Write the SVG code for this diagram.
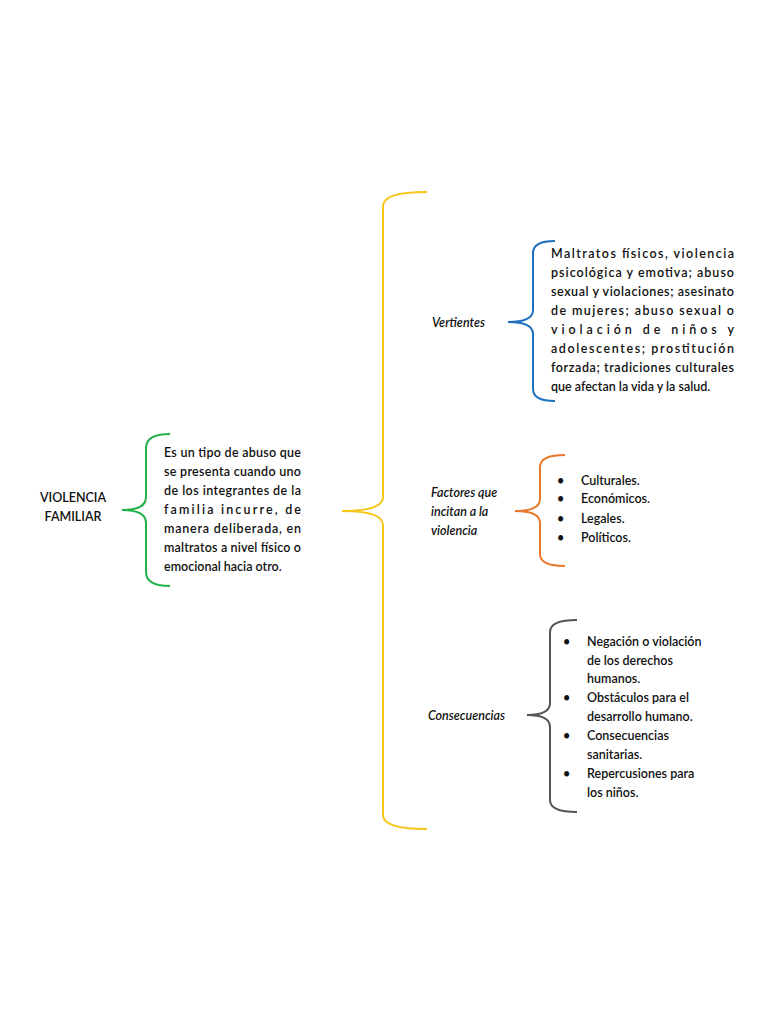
<svg xmlns="http://www.w3.org/2000/svg" width="768" height="1024" viewBox="0 0 768 1024">
<style>
text{font-family:Lato,"Open Sans",sans-serif;font-size:12.5px;font-weight:600;fill:#111}
.i{font-style:italic}
.b{fill:none;stroke-width:2}
</style>
<rect width="768" height="1024" fill="#fff"/>
<g id="connectors">
<path class="b" stroke="#22b04b" d="M170 434 Q146 434 146 448 L146 497 Q146 510 122 510 Q146 510 146 523 L146 572 Q146 586 170 586"/>
<path class="b" stroke="#f5c518" d="M427 192 Q383 192 383 206 L383 497 Q383 511 342 511 Q383 511 383 525 L383 815 Q383 829 427 829"/>
<path class="b" stroke="#1f6fc0" d="M555 241 Q533 241 533 253 L533 310 Q533 322 508 322 Q533 322 533 334 L533 389 Q533 401 555 401"/>
<path class="b" stroke="#e8782a" d="M565 455 Q540 455 540 467 L540 499 Q540 511 515 511 Q540 511 540 523 L540 554 Q540 566 565 566"/>
<path class="b" stroke="#555" d="M577 620 Q550 620 550 632 L550 703 Q550 715 527 715 Q550 715 550 727 L550 800 Q550 812 577 812"/>
</g>
<g id="root"><text x="73" y="502" text-anchor="middle">VIOLENCIA</text><text x="73" y="521" text-anchor="middle">FAMILIAR</text></g>
<g id="definition" lengthAdjust="spacing">
<text x="164" y="457" textLength="137">Es un tipo de abuso que</text>
<text x="164" y="476" textLength="137">se presenta cuando uno</text>
<text x="164" y="495" textLength="137">de los integrantes de la</text>
<text x="164" y="514" textLength="137">familia       incurre,      de</text>
<text x="164" y="533" textLength="137">manera  deliberada,  en</text>
<text x="164" y="552" textLength="137">maltratos a nivel físico o</text>
<text x="164" y="571">emocional hacia otro.</text>
</g>
<g id="vertientes"><text class="i" x="432" y="327">Vertientes</text></g>
<g id="vertientes-text">
<text x="551" y="258" textLength="183">Maltratos    físicos,    violencia</text>
<text x="551" y="277" textLength="183">psicológica  y  emotiva;  abuso</text>
<text x="551" y="296" textLength="183">sexual  y  violaciones;  asesinato</text>
<text x="551" y="315" textLength="183">de  mujeres;  abuso  sexual  o</text>
<text x="551" y="334" textLength="183">violación       de       niños       y</text>
<text x="551" y="353" textLength="183">adolescentes;        prostitución</text>
<text x="551" y="372" textLength="183">forzada;  tradiciones  culturales</text>
<text x="551" y="391">que afectan la vida y la salud.</text>
</g>
<g id="factores"><text class="i" x="431" y="497">Factores que</text><text class="i" x="431" y="516">incitan a la</text><text class="i" x="431" y="535">violencia</text></g>
<g id="factores-list">
<text x="557" y="485">•</text><text x="581" y="485">Culturales.</text>
<text x="557" y="503">•</text><text x="581" y="503">Económicos.</text>
<text x="557" y="523">•</text><text x="581" y="523">Legales.</text>
<text x="557" y="542">•</text><text x="581" y="542">Políticos.</text>
</g>
<g id="consecuencias"><text class="i" x="428" y="720">Consecuencias</text></g>
<g id="consecuencias-list">
<text x="563" y="646">•</text><text x="587" y="646">Negación o violación</text>
<text x="587" y="665">de los derechos</text>
<text x="587" y="683">humanos.</text>
<text x="563" y="702">•</text><text x="587" y="702">Obstáculos para el</text>
<text x="587" y="721">desarrollo humano.</text>
<text x="563" y="740">•</text><text x="587" y="740">Consecuencias</text>
<text x="587" y="759">sanitarias.</text>
<text x="563" y="778">•</text><text x="587" y="778">Repercusiones para</text>
<text x="587" y="797">los niños.</text>
</g>
</svg>
